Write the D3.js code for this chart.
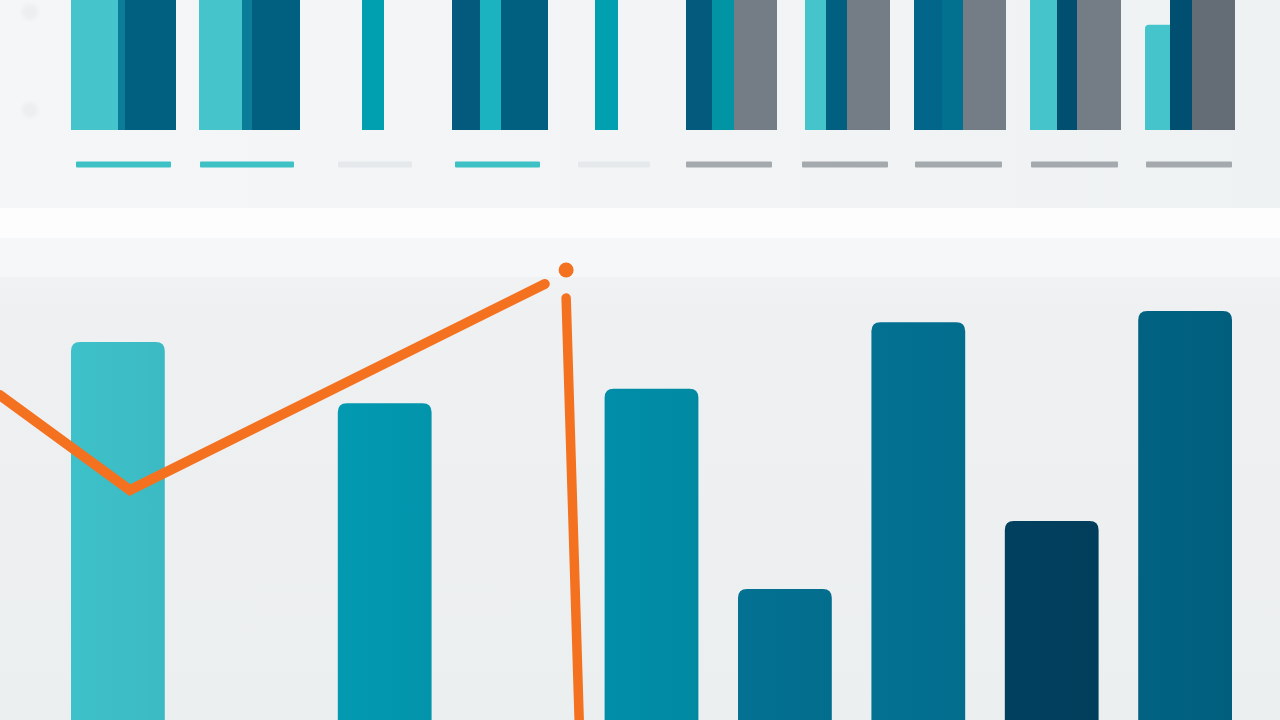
<!DOCTYPE html>
<html>
<head>
<meta charset="utf-8">
<script src="https://cdn.jsdelivr.net/npm/d3@7"></script>
<style>
  html, body { margin: 0; padding: 0; background: #f3f5f6; overflow: hidden; }
  svg { display: block; }
</style>
</head>
<body>
<svg id="chart" width="1280" height="720"></svg>
<script>
// ---------------- DATA ----------------
// Top panel: segmented column groups (start position and segment widths in layout units, heights in %)
const topGroupStarts = [7.1, 19.9, 36.2, 45.2, 59.5, 68.6, 80.5, 91.4, 103.0, 114.5];
const topGroupSeries = [
  ["light", "mid", "dark"],
  ["light", "mid", "dark"],
  ["teal"],
  ["navy", "aqua", "dark"],
  ["teal"],
  ["navy", "teal2", "gray"],
  ["light", "dark", "gray"],
  ["blue", "blue2", "gray"],
  ["light", "deep", "gray"],
  ["light", "deep", "gray2"]
];
const topGroupWidths = [
  [4.7, 0.7, 5.1],
  [4.3, 1.0, 4.8],
  [2.2],
  [2.8, 2.1, 4.7],
  [2.3],
  [2.6, 2.2, 4.3],
  [2.1, 2.1, 4.3],
  [2.8, 2.1, 4.3],
  [2.7, 2.0, 4.4],
  [2.5, 2.2, 4.3]
];
const topGroupHeights = [
  [110, 110, 110],
  [110, 110, 110],
  [110],
  [110, 110, 110],
  [110],
  [110, 110, 110],
  [110, 110, 110],
  [110, 110, 110],
  [110, 110, 110],
  [81, 110, 110]
];
// Top panel: indicator dashes below each group
const dashStarts = [7.6, 20.0, 33.8, 45.5, 57.8, 68.6, 80.2, 91.5, 103.1, 114.6];
const dashWidths = [9.5, 9.4, 7.4, 8.5, 7.2, 8.6, 8.6, 8.7, 8.7, 8.6];
const dashStatus = ["active", "active", "inactive", "active", "inactive", "muted", "muted", "muted", "muted", "muted"];

// Bottom panel: columns on 9 slots (slots 2 and 4 empty)
const slots = ["S1", "S2", "S3", "S4", "S5", "S6", "S7", "S8", "S9"];
const barSlots = ["S1", "S3", "S5", "S6", "S7", "S8", "S9"];
const barValues = [84, 70.4, 73.6, 29.1, 88.4, 44.2, 90.9];
const barSeries = ["c1", "c2", "c3", "c4", "c4", "c5", "c6"];

// Orange trend line (x in slot index units, y in value units)
const lineX = [-0.885, 0.09, 3.2];
const lineY = [72.2, 51.1, 96.9];
const markerX = [3.36];
const markerY = [100];
const dropX = [3.36, 3.46];
const dropY = [93.8, -2];

// ---------------- STYLES ----------------
const topColors = {
  light: "#45c5cb", mid: "#0b7d98", dark: "#01607f", teal: "#01a0b0",
  navy: "#035a7d", aqua: "#1cb3c0", teal2: "#0094a5", gray: "#747c85",
  blue: "#02668a", blue2: "#02718f", deep: "#004f70", gray2: "#646d75"
};
const dashColors = { active: "#3dc1c5", muted: "#a4a9ad", inactive: "#e6e9eb" };
const barColors = { c1: "#3dbdc6", c2: "#0296ad", c3: "#018ba4", c4: "#036f8f", c5: "#013f5d", c6: "#01607f" };
const orange = "#f47120";

// ---------------- DRAW ----------------
const svg = d3.select("#chart");
const W = 1280, H = 720;
const defs = svg.append("defs");

// Backgrounds
const bgGrad = defs.append("linearGradient").attr("id", "bgLow").attr("x1", 0).attr("y1", 0).attr("x2", 0).attr("y2", 1);
bgGrad.append("stop").attr("offset", "0%").attr("stop-color", "#f3f5f5");
bgGrad.append("stop").attr("offset", "15%").attr("stop-color", "#eef0f1");
bgGrad.append("stop").attr("offset", "100%").attr("stop-color", "#eceff0");

const topBg = defs.append("linearGradient").attr("id", "bgTop").attr("x1", 0).attr("y1", 0).attr("x2", 1).attr("y2", 0);
topBg.append("stop").attr("offset", "0%").attr("stop-color", "#f5f6f7");
topBg.append("stop").attr("offset", "100%").attr("stop-color", "#eff2f3");

svg.append("rect").attr("x", 0).attr("y", 0).attr("width", W).attr("height", 208).attr("fill", "url(#bgTop)");
svg.append("rect").attr("x", 0).attr("y", 208).attr("width", W).attr("height", 32).attr("fill", "#fdfdfd");
svg.append("rect").attr("x", 0).attr("y", 238).attr("width", W).attr("height", 482).attr("fill", "url(#bgLow)");
svg.append("rect").attr("x", 0).attr("y", 238).attr("width", W).attr("height", 39).attr("fill", "#f6f7f8");

// faint decorative markers at left of top panel
defs.append("filter").attr("id", "soft").append("feGaussianBlur").attr("stdDeviation", 2);
svg.append("g").selectAll("circle").data([100, 20]).join("circle")
  .attr("cx", 30).attr("cy", (d, i) => i === 0 ? 12 : 110).attr("r", 8)
  .attr("fill", "#eceeef").attr("filter", "url(#soft)");

// ---- Top panel ----
const topX = d3.scaleLinear().domain([0, 128]).range([0, W]);
const topY = d3.scaleLinear().domain([0, 100]).range([130, 0]);

const topData = [];
topGroupStarts.forEach((start, gi) => {
  let acc = start;
  topGroupWidths[gi].forEach((w, si) => {
    topData.push({ x0: acc, x1: acc + w, h: topGroupHeights[gi][si], s: topGroupSeries[gi][si] });
    acc += w;
  });
});

const topG = svg.append("g");
topG.selectAll("path").data(topData).join("path")
  .attr("d", d => {
    const x0 = topX(d.x0), x1 = topX(d.x1), y0 = topY(d.h), y1 = topY(0);
    const r = d.h < 100 ? 4 : 0;
    return `M${x0},${y1} L${x0},${y0 + r} Q${x0},${y0} ${x0 + r},${y0} L${x1},${y0} L${x1},${y1} Z`;
  })
  .attr("fill", d => topColors[d.s]);

const dashData = dashStarts.map((s, i) => ({ x0: s, w: dashWidths[i], st: dashStatus[i] }));
svg.append("g").selectAll("rect").data(dashData).join("rect")
  .attr("x", d => topX(d.x0)).attr("width", d => topX(d.w) - topX(0))
  .attr("y", 161.5).attr("height", 6).attr("rx", 1)
  .attr("fill", d => dashColors[d.st]);

// ---- Bottom panel ----
const x = d3.scaleBand().domain(slots).range([71, 1232]).paddingInner(0.297).paddingOuter(0);
const y = d3.scaleLinear().domain([0, 100]).range([720, 270]);
const slotX = d3.scaleLinear().domain([0, 8]).range([x("S1") + x.bandwidth() / 2, x("S9") + x.bandwidth() / 2]);

// subtle horizontal shading for bars
Object.entries(barColors).forEach(([k, c]) => {
  const g = defs.append("linearGradient").attr("id", "bar-" + k).attr("x1", 0).attr("x2", 1).attr("y1", 0).attr("y2", 0);
  g.append("stop").attr("offset", "0%").attr("stop-color", d3.color(c).brighter(0.06));
  g.append("stop").attr("offset", "100%").attr("stop-color", d3.color(c).darker(0.04));
});

const bars = barSlots.map((s, i) => ({ s, v: barValues[i], c: barSeries[i] }));
svg.append("g").selectAll("path").data(bars).join("path")
  .attr("d", d => {
    const x0 = x(d.s), x1 = x0 + x.bandwidth(), yt = y(d.v), yb = y(0) + 10, r = 9;
    return `M${x0},${yb} L${x0},${yt + r} Q${x0},${yt} ${x0 + r},${yt} L${x1 - r},${yt} Q${x1},${yt} ${x1},${yt + r} L${x1},${yb} Z`;
  })
  .attr("fill", d => `url(#bar-${d.c})`);

// Orange line
const line = d3.line().x(d => slotX(d[0])).y(d => y(d[1]));
svg.append("path")
  .datum(lineX.map((v, i) => [v, lineY[i]]))
  .attr("d", line)
  .attr("fill", "none").attr("stroke", orange).attr("stroke-width", 10)
  .attr("stroke-linecap", "round").attr("stroke-linejoin", "miter");

svg.append("path")
  .datum(dropX.map((v, i) => [v, dropY[i]]))
  .attr("d", line)
  .attr("fill", "none").attr("stroke", orange).attr("stroke-width", 9.5)
  .attr("stroke-linecap", "round");

svg.append("g").selectAll("circle").data(markerX.map((v, i) => [v, markerY[i]])).join("circle")
  .attr("cx", d => slotX(d[0])).attr("cy", d => y(d[1])).attr("r", 7.5)
  .attr("fill", orange);
</script>
</body>
</html>
